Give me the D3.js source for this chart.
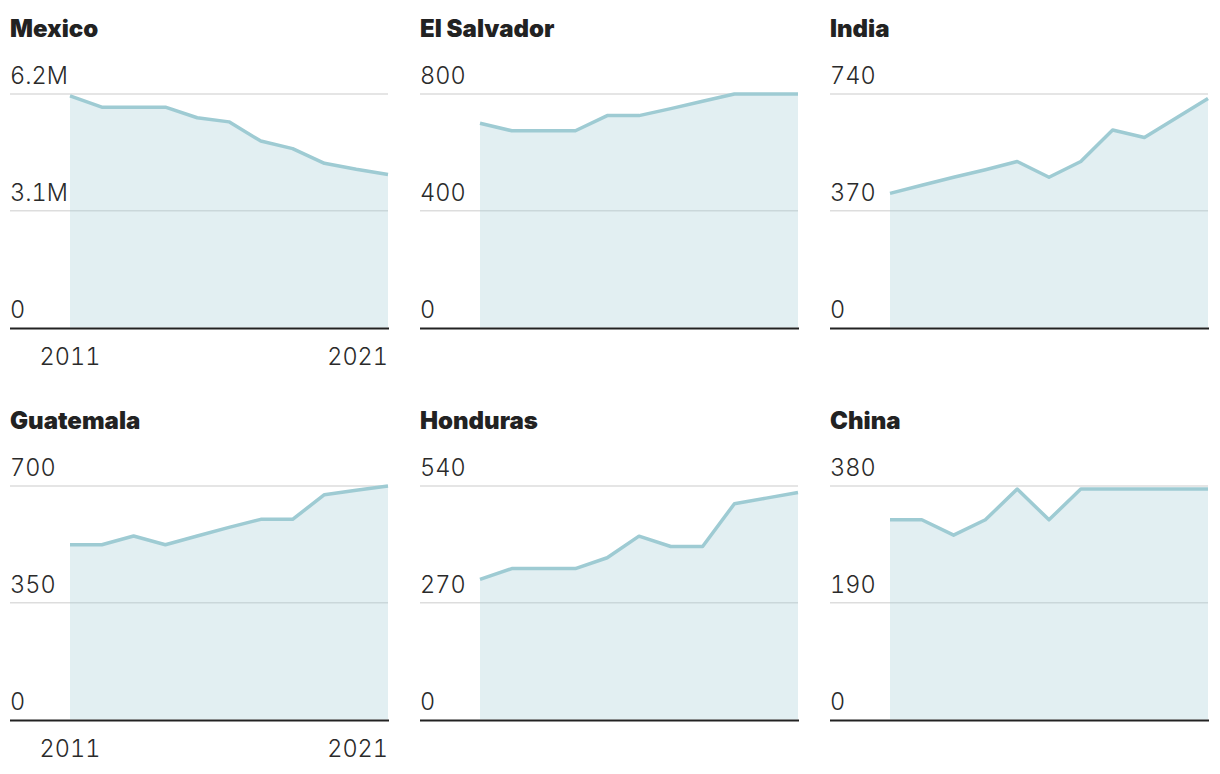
<!DOCTYPE html>
<html>
<head>
<meta charset="utf-8">
<script src="https://cdn.jsdelivr.net/npm/d3@7"></script>
<style>
  body { margin: 0; background: #fff; }
  svg { display: block; }
  .num { font-variant-numeric: tabular-nums; font-feature-settings: "tnum" 1; }
</style>
</head>
<body>
<div id="chart"></div>
<script>
// data
const years = [2011, 2012, 2013, 2014, 2015, 2016, 2017, 2018, 2019, 2020, 2021];
const countries = ["Mexico", "El Salvador", "India", "Guatemala", "Honduras", "China"];
const mexico     = [6.15e6, 5.85e6, 5.85e6, 5.85e6, 5.57e6, 5.46e6, 4.95e6, 4.75e6, 4.36e6, 4.2e6, 4.06e6];
const elSalvador = [700, 674, 674, 674, 726, 726, 750, 775, 800, 800, 800];
const india      = [425, 451, 476, 500, 526, 476, 526, 626, 602, 664, 726];
const guatemala  = [524, 524, 550, 524, 550, 576, 600, 600, 674, 687, 700];
const honduras   = [324, 349, 349, 349, 374, 424, 400, 400, 499, 512, 525];
const china      = [325, 325, 300, 325, 375, 325, 375, 375, 375, 375, 375];
const seriesValues = [mexico, elSalvador, india, guatemala, honduras, china];
// y tick values for each panel (0, half, max)
const yMax = [6.2e6, 800, 740, 700, 540, 380];
const yTickLabels = [
    ["0", "3.1M", "6.2M"],
    ["0", "400", "800"],
    ["0", "370", "740"],
    ["0", "350", "700"],
    ["0", "270", "540"],
    ["0", "190", "380"]
];
const xTickLabels = ["2011", "2021"];

const width = 1220, height = 774;
const colStep = 410, rowStep = 392;
const panelW = 378, plotTop = 94, plotH = 233.5, plotLeftPad = 60;

const lineColor = "#9ecbd3";
const font = "Inter, 'Noto Sans', sans-serif";

const svg = d3.select("#chart").append("svg")
    .attr("width", width)
    .attr("height", height);

countries.forEach((name, i) => {
    const col = i % 3, row = Math.floor(i / 3);
    const x0 = 10 + col * colStep;
    const top = plotTop + row * rowStep;
    const bottom = top + plotH;

    const g = svg.append("g");

    const x = d3.scaleLinear()
        .domain(d3.extent(years))
        .range([x0 + plotLeftPad, x0 + panelW]);
    const y = d3.scaleLinear()
        .domain([0, yMax[i]])
        .range([bottom, top]);

    const data = years.map((yr, k) => ({ year: yr, value: seriesValues[i][k] }));
    const ticks = [0, yMax[i] / 2, yMax[i]];

    // 标题
    g.append("text")
        .attr("x", x0)
        .attr("y", top - 57)
        .attr("font-family", font)
        .attr("font-size", "24px")
        .attr("font-weight", 900)
        .attr("fill", "#222")
        .text(name);

    // 网格线
    g.selectAll("line.grid")
        .data(ticks.slice(1))
        .enter()
        .append("line")
        .attr("class", "grid")
        .attr("x1", x0)
        .attr("x2", x0 + panelW)
        .attr("y1", d => y(d))
        .attr("y2", d => y(d))
        .attr("stroke", "#dddddd")
        .attr("stroke-width", 1.5);

    // y 轴标签
    g.selectAll("text.ytick")
        .data(ticks)
        .enter()
        .append("text")
        .attr("class", "ytick num")
        .attr("x", x0)
        .attr("y", d => y(d) - 10)
        .attr("font-family", font)
        .attr("font-size", "23.5px")
        .attr("font-weight", 300)
        .attr("fill", "#2a2a2a")
        .text((d, k) => yTickLabels[i][k]);

    // 面积
    const area = d3.area()
        .x(d => x(d.year))
        .y0(y(0))
        .y1(d => y(d.value));
    g.append("path")
        .datum(data)
        .attr("fill", lineColor)
        .attr("fill-opacity", 0.3)
        .attr("d", area);

    // 折线
    const line = d3.line()
        .x(d => x(d.year))
        .y(d => y(d.value));
    g.append("path")
        .datum(data)
        .attr("fill", "none")
        .attr("stroke", lineColor)
        .attr("stroke-width", 3.5)
        .attr("stroke-linejoin", "round")
        .attr("d", line);

    // 基线
    g.append("line")
        .attr("x1", x0)
        .attr("x2", x0 + panelW + 1)
        .attr("y1", y(0) + 1)
        .attr("y2", y(0) + 1)
        .attr("stroke", "#222")
        .attr("stroke-width", 2);

    // x 轴标签 (只在第一列)
    if (col === 0) {
        g.selectAll("text.xtick")
            .data([years[0], years[years.length - 1]])
            .enter()
            .append("text")
            .attr("class", "xtick num")
            .attr("x", d => x(d))
            .attr("y", bottom + 37.5)
            .attr("text-anchor", (d, k) => k === 0 ? "middle" : "end")
            .attr("font-family", font)
            .attr("font-size", "23.5px")
            .attr("font-weight", 300)
            .attr("fill", "#2a2a2a")
            .text((d, k) => xTickLabels[k]);
    }
});
</script>
</body>
</html>
